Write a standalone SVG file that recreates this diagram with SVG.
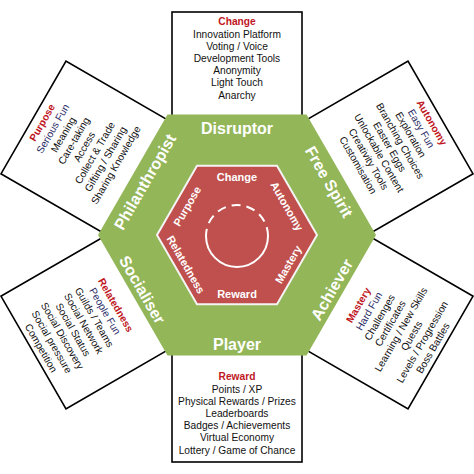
<svg xmlns="http://www.w3.org/2000/svg" width="474" height="474" viewBox="0 0 474 474">
<style>
.box{fill:#fff;stroke:#000;stroke-width:1.6}
.t{font-family:"Liberation Sans",Arial,sans-serif;font-size:10.2px;text-anchor:middle;fill:#111}
.h{fill:#C0161E;font-weight:bold}
.f{fill:#2A2A66}
.g{font-family:"Liberation Sans",Arial,sans-serif;font-size:16px;font-weight:bold;text-anchor:middle;fill:#fff}
.r{font-family:"Liberation Sans",Arial,sans-serif;font-size:11px;font-weight:bold;text-anchor:middle;fill:#fff}
</style>
<rect width="474" height="474" fill="#fff"/>
<g id="box-change">
<rect class="box" x="172" y="12" width="130" height="120"/>
<text class="t h" x="237" y="25.3">Change</text>
<text class="t" x="237" y="37.5">Innovation Platform</text>
<text class="t" x="237" y="49.7">Voting / Voice</text>
<text class="t" x="237" y="61.9">Development Tools</text>
<text class="t" x="237" y="74.1">Anonymity</text>
<text class="t" x="237" y="86.3">Light Touch</text>
<text class="t" x="237" y="98.5">Anarchy</text>
</g>
<g id="box-autonomy" transform="rotate(60 237 235)">
<rect class="box" x="172" y="0" width="130" height="130"/>
<text class="t h" x="237" y="13.6">Autonomy</text>
<text class="t f" x="237" y="25.8">Easy Fun</text>
<text class="t" x="237" y="37.9">Exploration</text>
<text class="t" x="237" y="50.1">Branching Choices</text>
<text class="t" x="237" y="62.2">Easter Eggs</text>
<text class="t" x="237" y="74.4">Unlockable Content</text>
<text class="t" x="237" y="86.6">Creativity Tools</text>
<text class="t" x="237" y="98.7">Customisation</text>
</g>
<g id="box-purpose" transform="rotate(-60 237 235)">
<rect class="box" x="172" y="0" width="130" height="130"/>
<text class="t h" x="237" y="13.6">Purpose</text>
<text class="t f" x="237" y="25.8">Serious Fun</text>
<text class="t" x="237" y="37.9">Meaning</text>
<text class="t" x="237" y="50.1">Care-taking</text>
<text class="t" x="237" y="62.2">Access</text>
<text class="t" x="237" y="74.4">Collect &amp; Trade</text>
<text class="t" x="237" y="86.6">Gifting / Sharing</text>
<text class="t" x="237" y="98.7">Sharing Knowledge</text>
</g>
<g id="box-reward">
<rect class="box" x="172" y="340" width="130" height="122"/>
<text class="t h" x="237" y="380.3">Reward</text>
<text class="t" x="237" y="392.5">Points / XP</text>
<text class="t" x="237" y="404.7">Physical Rewards / Prizes</text>
<text class="t" x="237" y="416.9">Leaderboards</text>
<text class="t" x="237" y="429.1">Badges / Achievements</text>
<text class="t" x="237" y="441.3">Virtual Economy</text>
<text class="t" x="237" y="453.5">Lottery / Game of Chance</text>
</g>
<g id="box-relatedness" transform="rotate(60 237 235)">
<rect class="box" x="172" y="340" width="130" height="130"/>
<text class="t h" x="237" y="378.6">Relatedness</text>
<text class="t f" x="237" y="390.9">People Fun</text>
<text class="t" x="237" y="403.2">Guilds / Teams</text>
<text class="t" x="237" y="415.5">Social Network</text>
<text class="t" x="237" y="427.8">Social Status</text>
<text class="t" x="237" y="440.1">Social Discovery</text>
<text class="t" x="237" y="452.4">Social pressure</text>
<text class="t" x="237" y="464.7">Competition</text>
</g>
<g id="box-mastery" transform="rotate(-60 237 235)">
<rect class="box" x="172" y="340" width="130" height="130"/>
<text class="t h" x="237" y="378.6">Mastery</text>
<text class="t f" x="237" y="390.9">Hard Fun</text>
<text class="t" x="237" y="403.2">Challenges</text>
<text class="t" x="237" y="415.5">Certificates</text>
<text class="t" x="237" y="427.8">Learning / New Skills</text>
<text class="t" x="237" y="440.1">Quests</text>
<text class="t" x="237" y="452.4">Levels / Progression</text>
<text class="t" x="237" y="464.7">Boss Battles</text>
</g>
<g id="player-types">
<polygon points="376,235 306.5,355.4 167.5,355.4 98,235 167.5,114.6 306.5,114.6" fill="#93B659"/>
<text class="g" x="237" y="134.3">Disruptor</text>
<text class="g" x="237" y="134.3" transform="rotate(60 237 235)">Free Spirit</text>
<text class="g" x="237" y="134.3" transform="rotate(-60 237 235)">Philanthropist</text>
<text class="g" x="237" y="350">Player</text>
<text class="g" x="237" y="350" transform="rotate(-60 237 235)">Achiever</text>
<text class="g" x="237" y="350" transform="rotate(60 237 235)">Socialiser</text>
</g>
<g id="core">
<polygon points="317,235 277,304.3 197,304.3 157,235 197,165.7 277,165.7" fill="#C0504D" stroke="#F4F4F4" stroke-width="2"/>
<text class="r" x="237" y="181.3">Change</text>
<text class="r" x="237" y="181.3" transform="rotate(60 237 235)">Autonomy</text>
<text class="r" x="237" y="181.3" transform="rotate(-60 237 235)">Purpose</text>
<text class="r" x="237" y="298">Reward</text>
<text class="r" x="237" y="298" transform="rotate(-60 237 235)">Mastery</text>
<text class="r" x="237" y="298" transform="rotate(60 237 235)">Relatedness</text>
<path d="M206,236 A31,31 0 0 0 268,236" fill="none" stroke="#fff" stroke-width="2"/>
<path d="M268,236 A31,31 0 0 0 206,236" fill="none" stroke="#fff" stroke-width="2" stroke-dasharray="9 6"/>
</g>
</svg>
